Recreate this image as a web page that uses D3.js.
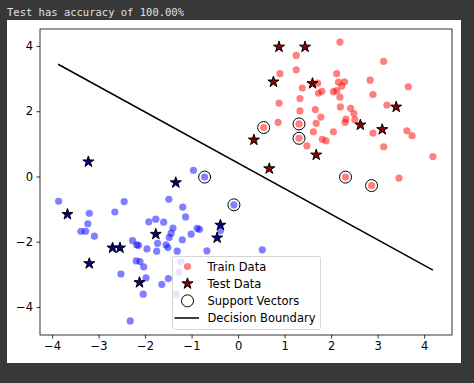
<!DOCTYPE html>
<html>
<head>
<meta charset="utf-8">
<script src="https://cdn.jsdelivr.net/npm/d3@7"></script>
<style>
  body { margin: 0; background: #383838; }
  svg { display: block; }
</style>
</head>
<body>
<svg id="chart"></svg>
<script>
const title = "Test has accuracy of 100.00%"

// train data, class 1 (red)
const redTrainX = [2.19, 1.25, 3.13, 0.90, 1.25, 2.12, 2.84, 2.16, 2.29, 2.23, 3.66, 1.38, 1.71, 1.80, 1.73, 2.05, 2.12, 2.90, 1.33, 2.19, 0.88, 3.20, 2.20, 2.42, 1.33, 1.66, 2.49, 1.78, 2.32, 2.30, 2.51, 0.86, 1.68, 1.31, 0.55, 1.62, 2.05, 2.90, 3.63, 3.74, 1.31, 1.81, 1.89, 1.48, 3.13, 4.19, 2.31, 2.87, 3.46]
const redTrainY = [4.12, 3.71, 3.53, 3.15, 3.27, 3.15, 2.95, 2.89, 2.90, 2.77, 2.75, 2.71, 2.86, 2.61, 2.55, 2.60, 2.63, 2.51, 2.39, 2.43, 2.25, 2.19, 2.13, 2.09, 2.01, 2.05, 1.93, 1.82, 1.76, 1.66, 1.74, 1.66, 1.63, 1.61, 1.50, 1.37, 1.37, 1.33, 1.40, 1.25, 1.17, 1.14, 1.09, 0.94, 0.91, 0.61, -0.02, -0.28, -0.05]

// train data, class 0 (blue)
const blueTrainX = [-3.86, -3.20, -3.23, -3.38, -3.28, -3.09, -2.65, -2.45, -2.27, -2.18, -2.14, -1.96, -1.92, -1.77, -1.60, -1.49, -1.19, -1.13, -1.40, -1.44, -1.48, -1.73, -1.75, -1.55, -1.51, -1.31, -1.20, -1.01, -0.88, -0.83, -0.67, -0.38, -2.19, -2.11, -2.03, -1.98, -2.04, -2.52, -1.64, -1.50, -2.32, -1.23, -1.27, -1.34, -0.96, 0.52, 0.19, -0.72, -0.09]
const blueTrainY = [-0.76, -1.13, -1.45, -1.68, -1.68, -1.83, -1.09, -0.77, -1.97, -2.10, -2.11, -2.22, -1.39, -1.31, -1.40, -0.70, -0.94, -1.24, -1.58, -1.74, -1.87, -2.05, -2.29, -2.10, -2.18, -2.29, -1.94, -1.77, -1.59, -1.62, -2.28, -1.66, -2.59, -2.61, -2.77, -3.11, -3.61, -2.99, -3.31, -3.13, -4.43, -2.61, -2.94, -3.61, 0.19, -2.25, -3.87, -0.02, -0.87]

// test data
const redTestX = [0.88, 1.44, 0.76, 1.60, 3.40, 2.63, 3.10, 0.34, 1.68, 0.67]
const redTestY = [3.97, 3.97, 2.90, 2.85, 2.13, 1.58, 1.44, 1.12, 0.66, 0.24]
const blueTestX = [-3.22, -3.67, -1.34, -1.77, -2.70, -2.54, -3.20, -2.12, -0.38, -0.45]
const blueTestY = [0.45, -1.16, -0.19, -1.77, -2.19, -2.19, -2.67, -3.25, -1.49, -1.88]

// support vectors
const svX = [1.31, 0.55, 1.31, 2.31, 2.87, -0.72, -0.09]
const svY = [1.61, 1.50, 1.17, -0.02, -0.28, -0.02, -0.87]

// decision boundary end points
const boundaryX = [-3.87, 4.19]
const boundaryY = [3.44, -2.87]

const xTicks = [-4, -3, -2, -1, 0, 1, 2, 3, 4]
const yTicks = [-4, -2, 0, 2, 4]
const legendLabels = ["Train Data", "Test Data", "Support Vectors", "Decision Boundary"]

const width = 474
const height = 383
const font = "DejaVu Sans, sans-serif"

const svg = d3.select("#chart").attr("width", width).attr("height", height)

svg.append("rect").attr("width", width).attr("height", height).attr("fill", "#383838")

svg.append("text")
    .attr("x", 7).attr("y", 16)
    .attr("font-family", "DejaVu Sans Mono, monospace")
    .attr("font-size", 10.5)
    .attr("fill", "#e0e0e0")
    .text(title)

// figure area
svg.append("rect").attr("x", 7).attr("y", 20).attr("width", 454).attr("height", 343).attr("fill", "#fff")

const plotLeft = 40, plotRight = 452, plotTop = 29, plotBottom = 335

const x = d3.scaleLinear().domain([-4.26, 4.60]).range([plotLeft, plotRight])
const y = d3.scaleLinear().domain([-4.86, 4.52]).range([plotBottom, plotTop])

const zip = (a, b) => a.map((v, i) => [v, b[i]])

const g = svg.append("g")

// train points
g.selectAll("circle.red")
    .data(zip(redTrainX, redTrainY))
    .enter().append("circle")
    .attr("class", "red")
    .attr("cx", d => x(d[0])).attr("cy", d => y(d[1])).attr("r", 3.6)
    .attr("fill", "red").attr("fill-opacity", 0.5)

g.selectAll("circle.blue")
    .data(zip(blueTrainX, blueTrainY))
    .enter().append("circle")
    .attr("class", "blue")
    .attr("cx", d => x(d[0])).attr("cy", d => y(d[1])).attr("r", 3.6)
    .attr("fill", "blue").attr("fill-opacity", 0.5)

// test points as stars
const star = d3.symbol().type(d3.symbolStar).size(38)

g.selectAll("path.redstar")
    .data(zip(redTestX, redTestY))
    .enter().append("path")
    .attr("class", "redstar")
    .attr("d", star)
    .attr("transform", d => `translate(${x(d[0])},${y(d[1])})`)
    .attr("fill", "#8b0000").attr("stroke", "#000").attr("stroke-width", 1)

g.selectAll("path.bluestar")
    .data(zip(blueTestX, blueTestY))
    .enter().append("path")
    .attr("class", "bluestar")
    .attr("d", star)
    .attr("transform", d => `translate(${x(d[0])},${y(d[1])})`)
    .attr("fill", "#00008b").attr("stroke", "#000").attr("stroke-width", 1)

// support vector rings
g.selectAll("circle.sv")
    .data(zip(svX, svY))
    .enter().append("circle")
    .attr("class", "sv")
    .attr("cx", d => x(d[0])).attr("cy", d => y(d[1])).attr("r", 6)
    .attr("fill", "none").attr("stroke", "#000").attr("stroke-width", 1)

// decision boundary
g.append("path")
    .datum(zip(boundaryX, boundaryY))
    .attr("d", d3.line().x(d => x(d[0])).y(d => y(d[1])))
    .attr("fill", "none").attr("stroke", "#000").attr("stroke-width", 1.5)

// axes
const fmt = d => d < 0 ? "\u2212" + Math.abs(d) : String(d)

const xAxis = svg.append("g").attr("transform", `translate(0,${plotBottom})`)
    .call(d3.axisBottom(x).tickValues(xTicks).tickFormat(fmt).tickSize(3.5).tickPadding(3.5))
const yAxis = svg.append("g").attr("transform", `translate(${plotLeft},0)`)
    .call(d3.axisLeft(y).tickValues(yTicks).tickFormat(fmt).tickSize(3.5).tickPadding(3.5))

;[xAxis, yAxis].forEach(a => {
    a.select(".domain").remove()
    a.selectAll("line").attr("stroke", "#000").attr("stroke-width", 0.8)
    a.selectAll("text").attr("font-family", font).attr("font-size", 11.5).attr("fill", "#000")
})

svg.append("rect")
    .attr("x", plotLeft).attr("y", plotTop).attr("width", plotRight - plotLeft).attr("height", plotBottom - plotTop)
    .attr("fill", "none").attr("stroke", "#000").attr("stroke-width", 0.8)

// legend
const lg = svg.append("g").attr("transform", "translate(172,256)")
lg.append("rect")
    .attr("x", 0.5).attr("y", 0.5).attr("width", 148).attr("height", 73).attr("rx", 2)
    .attr("fill", "#fff").attr("fill-opacity", 0.8)
    .attr("stroke", "#d6d6d6").attr("stroke-width", 1)

const rowY = d3.scalePoint().domain(legendLabels).range([10.5, 62]).padding(0)

lg.selectAll("text")
    .data(legendLabels)
    .enter().append("text")
    .attr("x", 35.5).attr("y", d => rowY(d) + 4)
    .attr("font-family", font).attr("font-size", 11.5).attr("fill", "#000")
    .text(d => d)

lg.append("circle").attr("cx", 15.5).attr("cy", rowY(legendLabels[0])).attr("r", 3.6)
    .attr("fill", "red").attr("fill-opacity", 0.5)
lg.append("path").attr("d", star)
    .attr("transform", `translate(15.5,${rowY(legendLabels[1])})`)
    .attr("fill", "#8b0000").attr("stroke", "#000").attr("stroke-width", 1)
lg.append("circle").attr("cx", 15.5).attr("cy", rowY(legendLabels[2])).attr("r", 6)
    .attr("fill", "none").attr("stroke", "#000").attr("stroke-width", 1)
lg.append("line").attr("x1", 2.5).attr("x2", 27).attr("y1", rowY(legendLabels[3])).attr("y2", rowY(legendLabels[3]))
    .attr("stroke", "#000").attr("stroke-width", 1.5)
</script>
</body>
</html>
